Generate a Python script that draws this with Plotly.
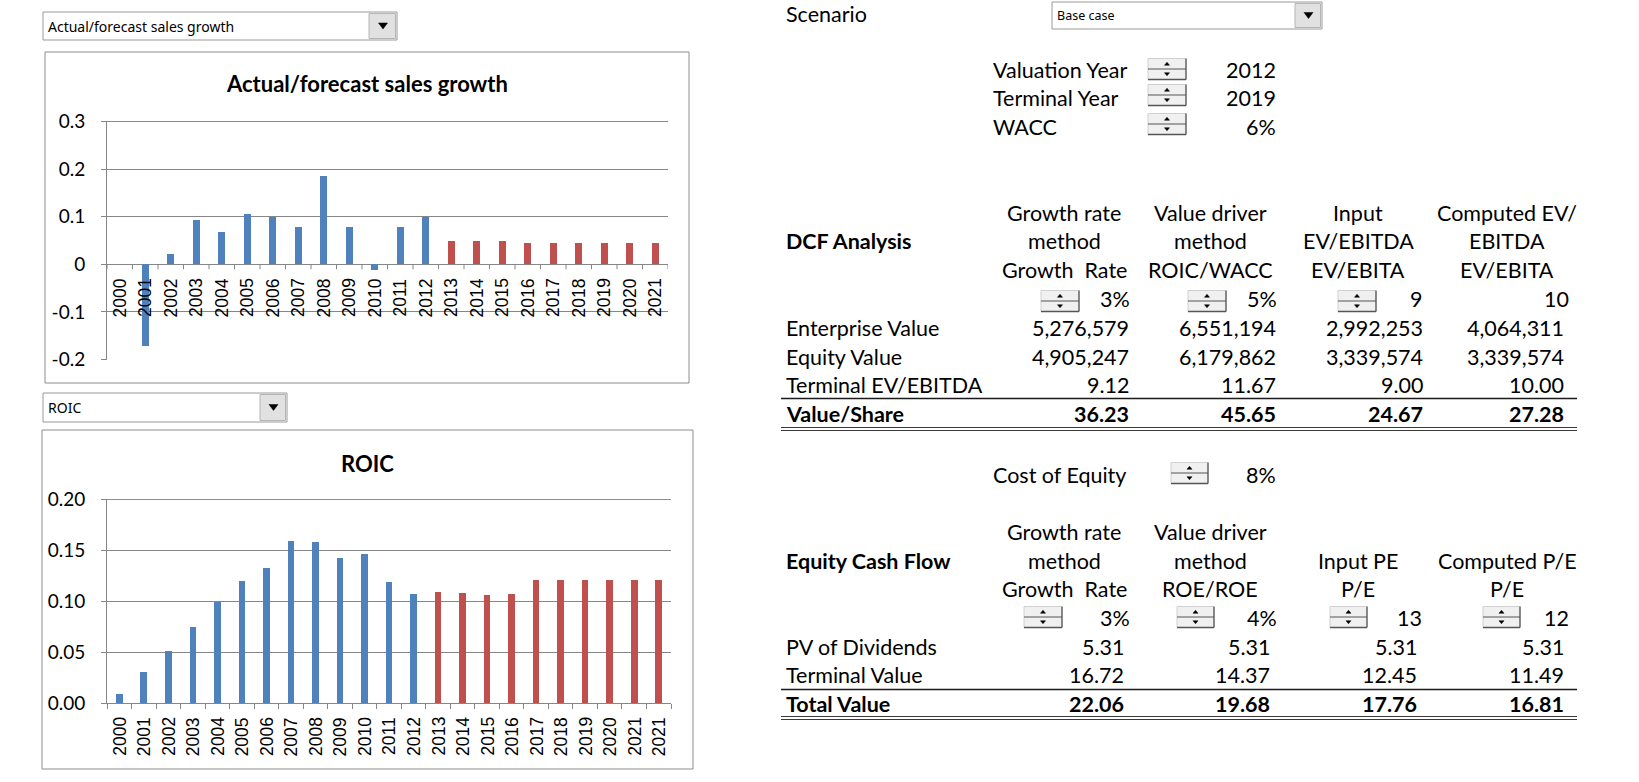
import plotly.graph_objects as go

# ---------------- data ----------------
YEARS = ["2000", "2001", "2002", "2003", "2004", "2005", "2006", "2007", "2008", "2009", "2010",
         "2011", "2012", "2013", "2014", "2015", "2016", "2017", "2018", "2019", "2020", "2021"]
GROWTH_ACTUAL = [0.0, -0.172, 0.022, 0.093, 0.068, 0.105, 0.100, 0.078, 0.185, 0.078, -0.011, 0.078, 0.099]
GROWTH_FORECAST = [0.049, 0.049, 0.049, 0.045, 0.045, 0.045, 0.045, 0.045, 0.045]
GROWTH_TICKS = [-0.2, -0.1, 0.0, 0.1, 0.2, 0.3]
GROWTH_TICK_TEXT = ["-0.2", "-0.1", "0", "0.1", "0.2", "0.3"]

ROIC_YEARS = YEARS + ["2021"]
ROIC_ACTUAL = [0.009, 0.0305, 0.051, 0.075, 0.099, 0.120, 0.133, 0.159, 0.158, 0.1425, 0.146, 0.119, 0.107]
ROIC_FORECAST = [0.109, 0.108, 0.106, 0.1075, 0.121, 0.121, 0.121, 0.121, 0.121, 0.121]
ROIC_TICKS = [0.0, 0.05, 0.10, 0.15, 0.20]
ROIC_TICK_TEXT = ["0.00", "0.05", "0.10", "0.15", "0.20"]

CHART1_TITLE = "Actual/forecast sales growth"
CHART2_TITLE = "ROIC"
SCENARIO = "Base case"

INPUT_LABELS = ["Valuation Year", "Terminal Year", "WACC"]
INPUT_VALUES = ["2012", "2019", "6%"]

DCF_HEADERS = [["Growth rate", "method", "Growth\u00a0\u00a0Rate"],
               ["Value driver", "method", "ROIC/WACC"],
               ["Input", "EV/EBITDA", "EV/EBITA"],
               ["Computed EV/", "EBITDA", "EV/EBITA"]]
DCF_PARAMS = ["3%", "5%", "9", "10"]
DCF_ROW_LABELS = ["Enterprise Value", "Equity Value", "Terminal EV/EBITDA", "Value/Share"]
ENTERPRISE_VALUE = [5276579, 6551194, 2992253, 4064311]
EQUITY_VALUE = [4905247, 6179862, 3339574, 3339574]
TERMINAL_EV_EBITDA = [9.12, 11.67, 9.00, 10.00]
VALUE_PER_SHARE = [36.23, 45.65, 24.67, 27.28]

COST_OF_EQUITY = "8%"
ECF_HEADERS = [["Growth rate", "method", "Growth\u00a0\u00a0Rate"],
               ["Value driver", "method", "ROE/ROE"],
               ["", "Input PE", "P/E"],
               ["", "Computed P/E", "P/E"]]
ECF_PARAMS = ["3%", "4%", "13", "12"]
ECF_ROW_LABELS = ["PV of Dividends", "Terminal Value", "Total Value"]
PV_DIVIDENDS = [5.31, 5.31, 5.31, 5.31]
TERMINAL_VALUE = [16.72, 14.37, 12.45, 11.49]
TOTAL_VALUE = [22.06, 19.68, 17.76, 16.81]

# ---------------- style / layout ----------------
W, H = 1639, 782
BLUE = "#4F81BD"
RED = "#C0504D"
GRID = "#868686"
TFONT = "Lato, Carlito, Calibri, sans-serif"
TSIZE = 21.5
YEARFONT = "Liberation Sans, Arial, sans-serif"
UIFONT = "Noto Sans, Open Sans, sans-serif"
BAR_W = 0.27


def X(p):
    return p / W


def Y(p):
    return 1 - p / H


shapes = []
annots = []


def text(x, y, s, anchor="left", bold=False, size=TSIZE, family=TFONT, color="#000000"):
    if bold:
        s = "<b>" + s + "</b>"
    annots.append(dict(x=X(x), y=Y(y), xref="paper", yref="paper", text=s, showarrow=False,
                       xanchor=anchor, yanchor="middle", font=dict(family=family, size=size, color=color)))


def line(x0, y0, x1, y1, color="#000000", width=1):
    shapes.append(dict(type="line", xref="paper", yref="paper", x0=X(x0), y0=Y(y0), x1=X(x1), y1=Y(y1),
                       line=dict(color=color, width=width)))


def rect(x0, y0, x1, y1, fill=None, color=GRID, width=1):
    shapes.append(dict(type="rect", xref="paper", yref="paper", x0=X(x0), y0=Y(y0), x1=X(x1), y1=Y(y1),
                       line=dict(color=color, width=width), fillcolor=fill if fill else "rgba(0,0,0,0)",
                       layer="above"))


def tri(cx, cy, w, h, up=True, color="#000000"):
    if up:
        pts = [(cx - w / 2, cy + h / 2), (cx + w / 2, cy + h / 2), (cx, cy - h / 2)]
    else:
        pts = [(cx - w / 2, cy - h / 2), (cx + w / 2, cy - h / 2), (cx, cy + h / 2)]
    path = "M " + " L ".join(f"{X(a):.5f},{Y(b):.5f}" for a, b in pts) + " Z"
    shapes.append(dict(type="path", xref="paper", yref="paper", path=path, fillcolor=color,
                       line=dict(color=color, width=0.5), layer="above"))


def spinner(x0, x1, yc, h=21):
    y0, y1 = yc - h / 2, yc + h / 2
    rect(x0, y0, x1, y1, fill="#F0F0F0", color="#D0D0D0")
    line(x0, y1, x1, y1, color="#555555", width=1.3)
    line(x1, y0, x1, y1, color="#555555", width=1.3)
    line(x0, yc, x1, yc, color="#555555", width=1)
    cx = (x0 + x1) / 2
    tri(cx, yc - h / 4, 5, 3, up=True)
    tri(cx, yc + h / 4, 5, 3, up=False)


def dropdown(x0, x1, y0, y1, btn_x, label, size):
    rect(x0, y0, x1, y1, fill="#FFFFFF", color="#9A9A9A")
    rect(btn_x, y0 + 1.5, x1 - 1.5, y1 - 1.5, fill="#E1E1E1", color="#B5B5B5")
    tri((btn_x + x1) / 2, (y0 + y1) / 2, 9, 6, up=False)
    text(x0 + 3, (y0 + y1) / 2, label, size=size, family=UIFONT)


def padded(lo, hi, frac=0.002):
    span = hi - lo
    return [lo - span * frac, hi + span * frac]


def top_grid(xref, yref, value):
    # make sure the gridline at the top tick is visible (it sits on the plot-area edge)
    shapes.append(dict(type="line", xref=xref + " domain", yref=yref, x0=0, x1=1, y0=value, y1=value,
                       line=dict(color=GRID, width=1), layer="below"))


fig = go.Figure()

# ---------------- chart 1 : sales growth ----------------
n1 = len(YEARS)
fig.add_trace(go.Bar(x=list(range(len(GROWTH_ACTUAL))), y=GROWTH_ACTUAL, width=BAR_W,
                     marker=dict(color=BLUE, line=dict(width=0)), xaxis="x", yaxis="y", showlegend=False))
fig.add_trace(go.Bar(x=list(range(len(GROWTH_ACTUAL), n1)), y=GROWTH_FORECAST, width=BAR_W,
                     marker=dict(color=RED, line=dict(width=0)), xaxis="x", yaxis="y", showlegend=False))
C1_TOP, C1_BOT = 121, 360
tick_len = 5 * (GROWTH_TICKS[-1] - GROWTH_TICKS[0]) / (C1_BOT - C1_TOP)
tx, ty = [], []
for i in range(n1 + 1):
    tx += [i - 0.5, i - 0.5, None]
    ty += [0, -tick_len, None]
fig.add_trace(go.Scatter(x=tx, y=ty, mode="lines", line=dict(color=GRID, width=1), xaxis="x", yaxis="y",
                         showlegend=False, hoverinfo="skip", cliponaxis=False))
for i, yr in enumerate(YEARS):
    annots.append(dict(x=i, y=0, xref="x", yref="y", text=yr, textangle=-90, showarrow=False,
                       xanchor="center", yanchor="top", yshift=-12,
                       font=dict(family=YEARFONT, size=17.5, color="#000000")))
top_grid("x", "y", GROWTH_TICKS[-1])

# ---------------- chart 2 : ROIC ----------------
n2 = len(ROIC_YEARS)
fig.add_trace(go.Bar(x=list(range(len(ROIC_ACTUAL))), y=ROIC_ACTUAL, width=BAR_W,
                     marker=dict(color=BLUE, line=dict(width=0)), xaxis="x2", yaxis="y2", showlegend=False))
fig.add_trace(go.Bar(x=list(range(len(ROIC_ACTUAL), n2)), y=ROIC_FORECAST, width=BAR_W,
                     marker=dict(color=RED, line=dict(width=0)), xaxis="x2", yaxis="y2", showlegend=False))
for i, yr in enumerate(ROIC_YEARS):
    annots.append(dict(x=i, y=0, xref="x2", yref="y2", text=yr, textangle=-90, showarrow=False,
                       xanchor="center", yanchor="top", yshift=-12,
                       font=dict(family=YEARFONT, size=17.5, color="#000000")))
top_grid("x2", "y2", ROIC_TICKS[-1])

# chart boxes, titles, selectors
rect(45, 52, 689, 383, color="#8C8C8C")
rect(42, 430, 693, 769, color="#8C8C8C")
text(367, 84, CHART1_TITLE, anchor="center", bold=True, size=22)
text(367, 463, CHART2_TITLE, anchor="center", bold=True, size=22)
dropdown(43, 397, 12, 40, 369, CHART1_TITLE, 14)
dropdown(43, 287, 393, 422, 260, CHART2_TITLE, 14)

# ---------------- right panel ----------------
text(784, 14, "Scenario")
dropdown(1052, 1322, 2, 29, 1295, SCENARIO, 12.5)

IN_Y = [70, 98, 127]
SP_Y = [69, 95, 124]
for lab, val, yy, sy in zip(INPUT_LABELS, INPUT_VALUES, IN_Y, SP_Y):
    text(991, yy, lab)
    spinner(1148, 1186, sy)
    text(1278, yy, val, anchor="right")

COL_C = [1064, 1210, 1358, 1507]
VAL_R = [1131, 1278, 1425, 1566]
PAR_R = [1132, 1279, 1424, 1571]

# DCF
HDR_Y = [213, 241, 270]
text(784, 241, "DCF Analysis", bold=True)
for c, hdr in enumerate(DCF_HEADERS):
    for k, s in enumerate(hdr):
        if s:
            text(COL_C[c], HDR_Y[k], s, anchor="center")
DCF_SPIN = [(1041, 1079), (1188, 1226), (1338, 1376)]
for (a, b) in DCF_SPIN:
    spinner(a, b, 301)
for c, p in enumerate(DCF_PARAMS):
    text(PAR_R[c], 299, p, anchor="right")

dcf_rows = [[f"{v:,}" for v in ENTERPRISE_VALUE],
            [f"{v:,}" for v in EQUITY_VALUE],
            [f"{v:.2f}" for v in TERMINAL_EV_EBITDA],
            [f"{v:.2f}" for v in VALUE_PER_SHARE]]
ROW_Y = [328, 357, 385, 414]
for r, (lab, vals) in enumerate(zip(DCF_ROW_LABELS, dcf_rows)):
    bold = r == 3
    text(784, ROW_Y[r], lab, bold=bold)
    for c, v in enumerate(vals):
        text(VAL_R[c], ROW_Y[r], v, anchor="right", bold=bold)
line(781, 398.5, 1577, 398.5, color="#1A1A1A", width=1.3)
line(781, 427.5, 1577, 427.5, color="#3A3A3A", width=1.2)
line(781, 430.5, 1577, 430.5, color="#3A3A3A", width=1.2)

# Equity cash flow
text(991, 475, "Cost of Equity")
spinner(1171, 1208, 473)
text(1278, 475, COST_OF_EQUITY, anchor="right")

EHDR_Y = [532, 561, 589]
text(784, 561, "Equity Cash Flow", bold=True)
for c, hdr in enumerate(ECF_HEADERS):
    for k, s in enumerate(hdr):
        if s:
            text(COL_C[c], EHDR_Y[k], s, anchor="center")
ECF_SPIN = [(1024, 1062), (1177, 1214), (1330, 1367), (1483, 1520)]
for (a, b) in ECF_SPIN:
    spinner(a, b, 617)
for c, p in enumerate(ECF_PARAMS):
    text(PAR_R[c], 618, p, anchor="right")

ECF_R = [1126, 1272, 1419, 1566]
ecf_rows = [[f"{v:.2f}" for v in PV_DIVIDENDS],
            [f"{v:.2f}" for v in TERMINAL_VALUE],
            [f"{v:.2f}" for v in TOTAL_VALUE]]
EROW_Y = [647, 675, 704]
for r, (lab, vals) in enumerate(zip(ECF_ROW_LABELS, ecf_rows)):
    bold = r == 2
    text(784, EROW_Y[r], lab, bold=bold)
    for c, v in enumerate(vals):
        text(ECF_R[c], EROW_Y[r], v, anchor="right", bold=bold)
line(781, 689.5, 1577, 689.5, color="#1A1A1A", width=1.3)
line(781, 716.5, 1577, 716.5, color="#3A3A3A", width=1.2)
line(781, 719.5, 1577, 719.5, color="#3A3A3A", width=1.2)

# ---------------- axes ----------------
tickfont = dict(family=TFONT, size=19, color="#000000")
fig.update_layout(
    width=W, height=H, margin=dict(l=0, r=0, t=0, b=0, pad=0, autoexpand=False),
    paper_bgcolor="#FFFFFF", plot_bgcolor="#FFFFFF", showlegend=False, bargap=0,
    xaxis=dict(domain=[X(107), X(668)], anchor="y", range=[-0.5, n1 - 0.5], showgrid=False, zeroline=False,
               showticklabels=False, ticks="", showline=False, fixedrange=True, automargin=False),
    yaxis=dict(domain=[Y(C1_BOT), Y(C1_TOP)], anchor="x", range=padded(GROWTH_TICKS[0], GROWTH_TICKS[-1]),
               tickvals=GROWTH_TICKS, ticktext=GROWTH_TICK_TEXT, showgrid=True, gridcolor=GRID, gridwidth=1,
               zeroline=True, zerolinecolor=GRID, zerolinewidth=1, showline=True, linecolor=GRID, linewidth=1,
               ticks="outside", ticklen=5, tickcolor=GRID, tickfont=tickfont, ticklabelstandoff=12,
               fixedrange=True, automargin=False),
    xaxis2=dict(domain=[X(107), X(671)], anchor="y2", range=[-0.5, n2 - 0.5], showgrid=False, zeroline=False,
                tickvals=[i - 0.5 for i in range(n2 + 1)], showticklabels=False, ticks="outside", ticklen=5,
                tickcolor=GRID, showline=True, linecolor=GRID, linewidth=1, fixedrange=True, automargin=False),
    yaxis2=dict(domain=[Y(703), Y(499)], anchor="x2",
                range=[ROIC_TICKS[0], padded(ROIC_TICKS[0], ROIC_TICKS[-1])[1]],
                tickvals=ROIC_TICKS, ticktext=ROIC_TICK_TEXT, showgrid=True, gridcolor=GRID, gridwidth=1,
                zeroline=False, showline=True, linecolor=GRID, linewidth=1, ticks="outside", ticklen=5,
                tickcolor=GRID, tickfont=tickfont, ticklabelstandoff=12, fixedrange=True, automargin=False),
    shapes=shapes, annotations=annots,
)

fig.write_html("out.html", config={"displayModeBar": False},
               post_script="document.body.style.margin='0';document.body.style.overflow='hidden';"
                           "document.documentElement.style.overflow='hidden';")
